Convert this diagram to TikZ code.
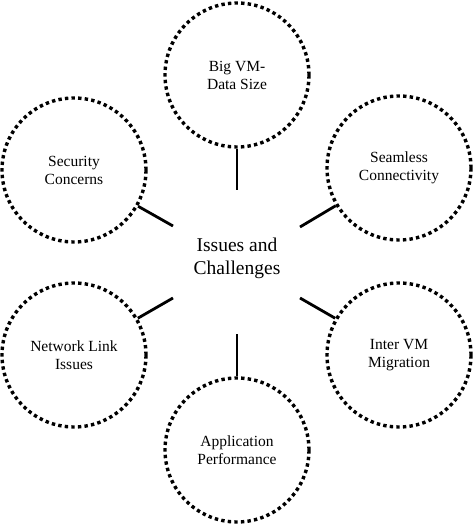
\documentclass[tikz,border=0pt]{standalone}
\usepackage{fontspec}
\setmainfont{Liberation Serif}
\usepackage{tikz}
\usetikzlibrary{shapes}

\begin{document}
\begin{tikzpicture}[x=1pt,y=1pt,
  issue/.style={circle,draw,line width=3.4pt,dash pattern=on 3.4pt off 3.2pt,
    minimum size=144pt,inner sep=0pt,align=center,font=\fontsize{15.5}{18}\selectfont},
  spoke/.style={line width=2.8pt}]
\useasboundingbox (0,0) rectangle (474,524);
\node (hub) at (237,266) [align=center,font=\fontsize{19.5}{23}\selectfont] {Issues and\\Challenges};
\node[issue] (big) at (237,449) {Big VM-\\Data Size};
\node[issue] (sec) at (74,354) {Security\\Concerns};
\node[issue] (seam) at (399,356) {Seamless\\Connectivity};
\node[issue] (net) at (74,169) {Network Link\\Issues};
\node[issue] (inter) at (399,169) {Inter VM\\Migration};
\node[issue] (app) at (237,74) {Application\\Performance};
% free ends of the spokes
\coordinate (tbig) at (237,334);
\coordinate (tsec) at (173,298);
\coordinate (tseam) at (300,297);
\coordinate (tnet) at (173,226);
\coordinate (tinter) at (300,226);
\coordinate (tapp) at (237,190);
\draw[spoke] (big) -- (tbig);
\draw[spoke] (sec) -- (tsec);
\draw[spoke] (seam) -- (tseam);
\draw[spoke] (net) -- (tnet);
\draw[spoke] (inter) -- (tinter);
\draw[spoke] (app) -- (tapp);
\end{tikzpicture}
\end{document}
